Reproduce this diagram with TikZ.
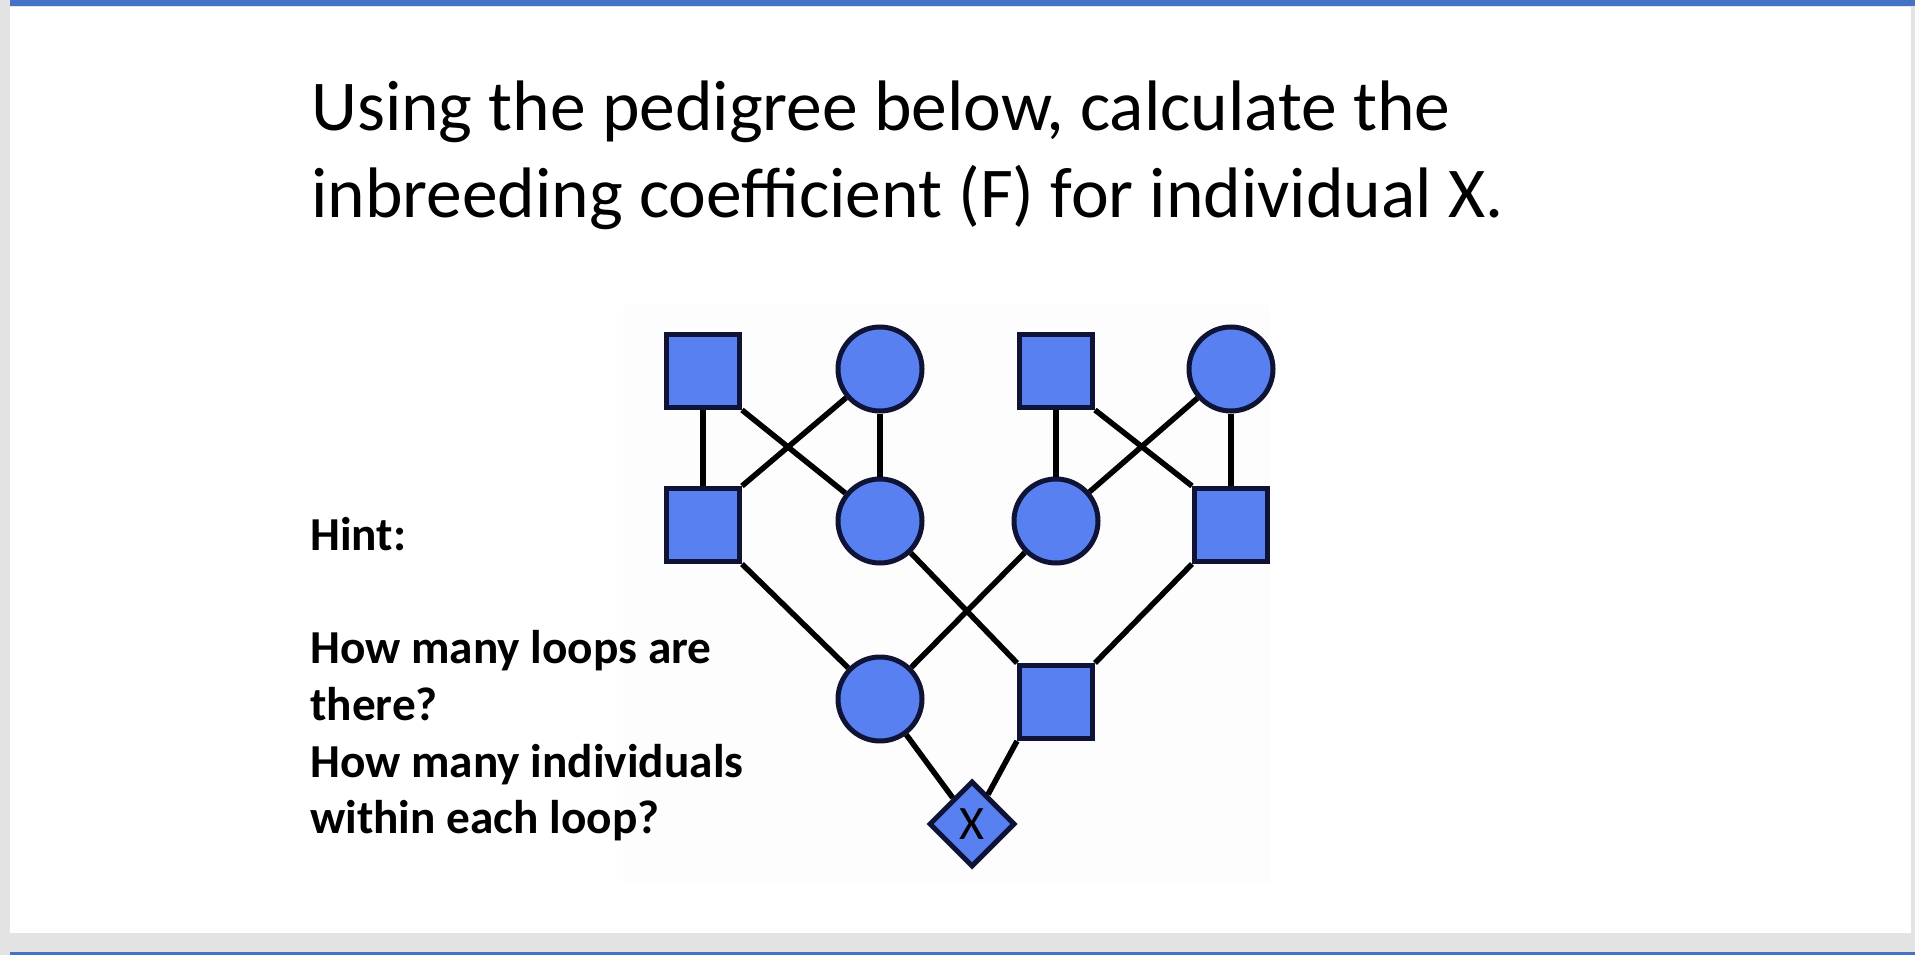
\documentclass[tikz,border=0pt]{standalone}
\usepackage{fontspec}
\setmainfont{Carlito}
\usetikzlibrary{shapes.geometric}
\definecolor{slideblue}{RGB}{68,114,196}
\definecolor{nodeblue}{RGB}{88,128,240}
\definecolor{rim}{RGB}{15,20,55}

\begin{document}
\begin{tikzpicture}[x=1pt,y=-1pt,
    male/.style={draw=rim,fill=nodeblue,line width=5pt,minimum size=73pt,inner sep=0pt},
    female/.style={circle,draw=rim,fill=nodeblue,line width=5pt,minimum size=84pt,inner sep=0pt},
    child/.style={diamond,aspect=1,draw=rim,fill=nodeblue,line width=5pt,minimum size=86pt,inner sep=0pt,font=\fontsize{48}{48}\selectfont},
    link/.style={line width=5.5pt},
    title/.style={anchor=base west,inner sep=0pt,font=\fontsize{71.5}{86}\selectfont},
    hint/.style={anchor=base west,inner sep=0pt,font=\fontsize{47.3}{56}\selectfont\bfseries}]
    % slide
    \useasboundingbox (0,0) rectangle (1915,955);
    \fill[gray!22] (0,0) rectangle (1915,955);
    \fill[white] (10,7) rectangle (1911,933);
    \fill[slideblue] (10,0) rectangle (1915,6);
    \fill[slideblue] (10,952) rectangle (1915,955);
    \fill[black!0.8] (623,305) rectangle (1270,882);
    % text
    \node[title] (t1) at (311,131) {Using the pedigree below, calculate the};
    \node[title] (t2) at (311,217) {inbreeding coefficient (F) for individual X.};
    \node[hint] (h1) at (310,550) {Hint:};
    \node[hint] (h2) at (310,663) {How many loops are};
    \node[hint] (h3) at (310,720) {there?};
    \node[hint] (h4) at (310,777) {How many individuals};
    \node[hint] (h5) at (310,833) {within each loop?};
    % pedigree
    \node[male] (a) at (703,371) {};
    \node[female] (b) at (880,369) {};
    \node[male] (c) at (1056,371) {};
    \node[female] (d) at (1231,369) {};
    \node[male] (e) at (703,525) {};
    \node[female] (f) at (880,521) {};
    \node[female] (g) at (1056,521) {};
    \node[male] (h) at (1231,525) {};
    \node[female] (i) at (880,699) {};
    \node[male] (j) at (1056,702) {};
    \node[child] (x) at (972,824) {X};
    \draw[link] (a) -- (e);
    \draw[link] (a.south east) -- (f);
    \draw[link] (b) -- (e.north east);
    \draw[link] (b) -- (f);
    \draw[link] (c) -- (g);
    \draw[link] (c.south east) -- (h.north west);
    \draw[link] (d) -- (g);
    \draw[link] (d) -- (h);
    \draw[link] (e.south east) -- (i);
    \draw[link] (f) -- (j.north west);
    \draw[link] (g) -- (i);
    \draw[link] (h.south west) -- (j.north east);
    \draw[link] (i) -- (x);
    \draw[link] (j.south west) -- (x);
\end{tikzpicture}
\end{document}
